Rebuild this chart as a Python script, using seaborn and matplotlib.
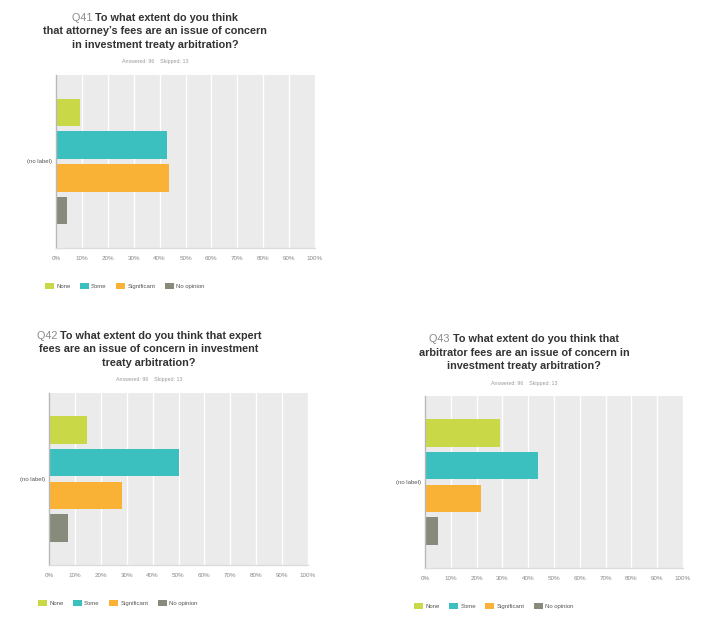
import numpy as np
import pandas as pd
import seaborn as sns
import matplotlib
matplotlib.use('Agg')
import matplotlib.pyplot as plt
from matplotlib.patches import Patch

# survey data (percent of 96 respondents)
responses = ['None', 'Some', 'Significant', 'No opinion']
colors = ['#C9D846', '#3CBFBF', '#F9B236', '#878B7B']
q41_values = [9.38, 42.71, 43.75, 4.17]
q42_values = [14.58, 50.00, 28.13, 7.29]
q43_values = [29.17, 43.75, 21.88, 5.21]
tick_labels = [f'{v}%' for v in range(0, 101, 10)]

questions = [
    ('Q41', ['To what extent do you think', 'that attorney\u2019s fees are an issue of concern',
             'in investment treaty arbitration?'], q41_values),
    ('Q42', ['To what extent do you think that expert', 'fees are an issue of concern in investment',
             'treaty arbitration?'], q42_values),
    ('Q43', ['To what extent do you think that', 'arbitrator fees are an issue of concern in',
             'investment treaty arbitration?'], q43_values),
]

sns.set_style('darkgrid', {'axes.facecolor': '#EBEBEB', 'grid.color': 'white'})
plt.rcParams['font.family'] = ['Liberation Sans', 'DejaVu Sans']

W, H = 713, 631
fig = plt.figure(figsize=(W / 100, H / 100), dpi=100)
fig.patch.set_facecolor('white')

# plot boxes in pixels: left, top, right, bottom ; title centre x, title first line y
boxes = [(56, 75, 315, 248, 155, 18),
         (49, 393, 308, 565, 149, 336),
         (425, 396, 683, 568, 524, 339)]

renderer = fig.canvas.get_renderer()


def title_block(cx, y0, qid, lines):
    fs = 7.8
    step = 13.5
    for i, line in enumerate(lines):
        y = 1 - (y0 + i * step) / H
        if i == 0:
            t1 = fig.text(0, y, qid + ' ', fontsize=fs, color='#8a8a8a', va='center')
            t2 = fig.text(0, y, line, fontsize=fs, color='#333333', fontweight='bold', va='center')
            w1 = t1.get_window_extent(renderer).width
            w2 = t2.get_window_extent(renderer).width
            x0 = cx - (w1 + w2) / 2
            t1.set_x(x0 / W)
            t2.set_x((x0 + w1) / W)
        else:
            fig.text(cx / W, y, line, fontsize=fs, color='#333333', fontweight='bold',
                     ha='center', va='center')
    fig.text(cx / W, 1 - (y0 + 2 * step + 17) / H, 'Answered: 96    Skipped: 13',
             fontsize=3.8, color='#9a9a9a', ha='center', va='center')


for (qid, lines, values), (l, t, r, b, cx, ty) in zip(questions, boxes):
    ax = fig.add_axes([l / W, 1 - b / H, (r - l) / W, (b - t) / H])
    df = pd.DataFrame({'group': ['(no label)'] * 4, 'response': responses, 'pct': values})
    sns.barplot(data=df, x='pct', y='group', hue='response', hue_order=responses,
                palette=colors, orient='h', width=0.76, gap=0.17, saturation=1,
                linewidth=0, legend=False, ax=ax)
    ax.set_xlim(0, 100)
    ax.set_ylim(0.5, -0.5)
    ax.set_xticks(range(0, 101, 10))
    ax.set_xticklabels(tick_labels, fontsize=4.5, color='#888888')
    ax.tick_params(axis='x', length=0, pad=6)
    ax.tick_params(axis='y', length=0, pad=3, labelsize=4.3, labelcolor='#555555')
    ax.grid(axis='y', visible=False)
    ax.grid(axis='x', color='white', linewidth=1)
    ax.set_xlabel('')
    ax.set_ylabel('')
    for side in ['top', 'right']:
        ax.spines[side].set_visible(False)
    ax.spines['left'].set_visible(True)
    ax.spines['left'].set_color('#b8b8b8')
    ax.spines['left'].set_linewidth(1)
    ax.spines['bottom'].set_visible(True)
    ax.spines['bottom'].set_color('#dcdcdc')
    ax.spines['bottom'].set_linewidth(1)

    handles = [Patch(facecolor=c, edgecolor='none') for c in colors]
    leg = ax.legend(handles, responses, loc='center left', ncol=4, frameon=False,
                    bbox_to_anchor=(-0.042, -0.22), fontsize=4.3, handlelength=1.5,
                    handleheight=1.3, handletextpad=0.35, columnspacing=1.6,
                    borderpad=0, borderaxespad=0)
    for txt in leg.get_texts():
        txt.set_color('#555555')

    title_block(cx, ty, qid, lines)

fig.savefig('out.png', dpi=100)
